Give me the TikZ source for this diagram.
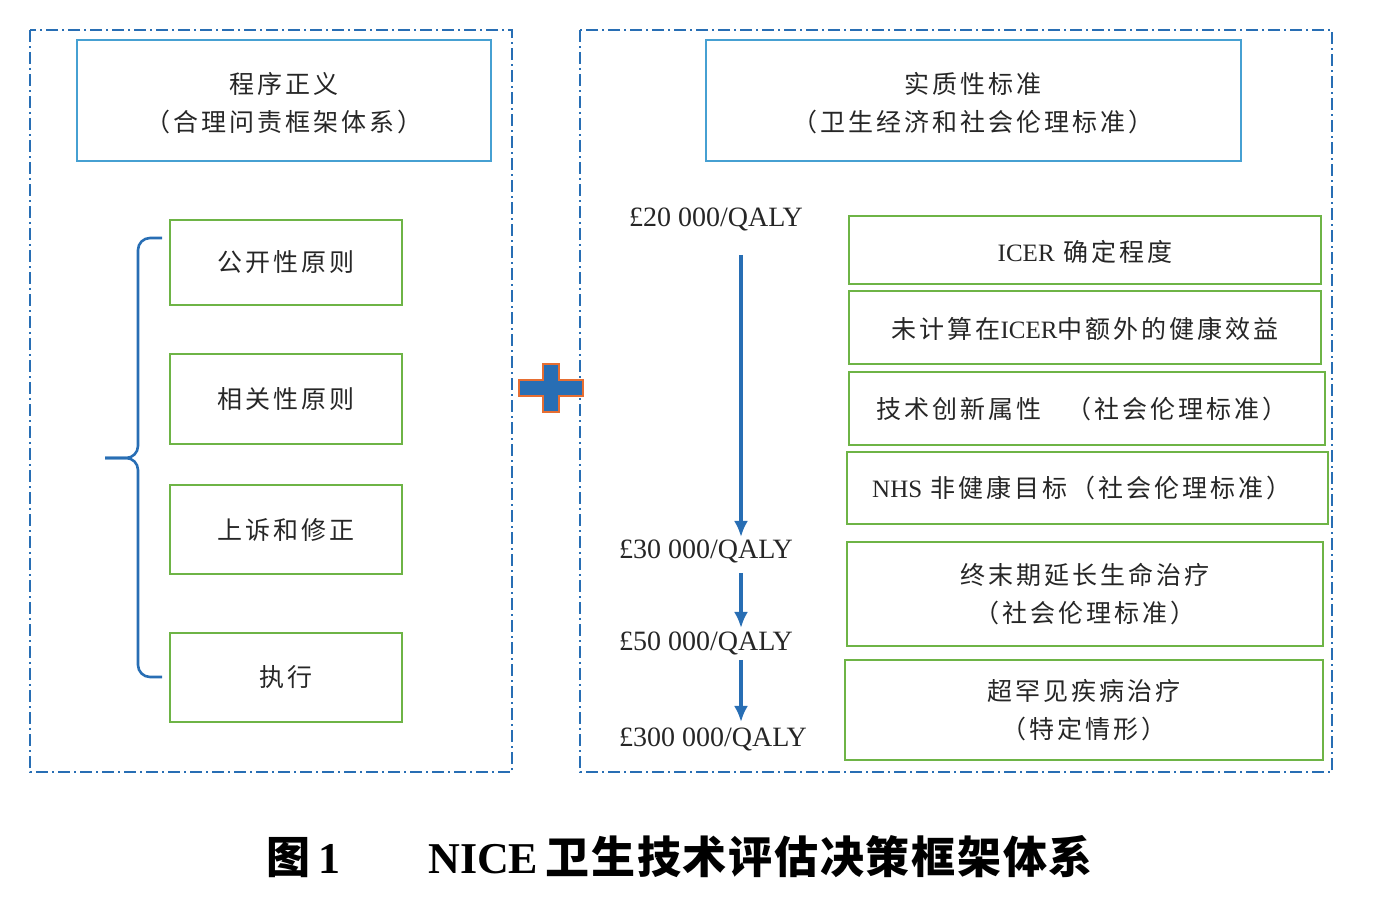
\documentclass[tikz,border=0pt]{standalone}
\usepackage{fontspec}
\setmainfont{Liberation Serif}
\newfontfamily\cjk[LetterSpace=12]{Noto Sans CJK SC}
\newfontfamily\cjkcap[LetterSpace=4]{Noto Sans CJK SC}
\definecolor{dblue}{RGB}{40,110,180}
\definecolor{lblue}{RGB}{70,160,210}
\definecolor{gr}{RGB}{110,180,70}
\definecolor{org}{RGB}{230,110,50}
\usetikzlibrary{arrows.meta}
\begin{document}
\begin{tikzpicture}[x=0.5pt,y=-0.5pt,
  outer/.style={draw=dblue,line width=1.2pt,dash pattern=on 6pt off 2pt on 1pt off 2pt},
  titlebox/.style={draw=lblue,line width=1.3pt},
  gbox/.style={draw=gr,line width=1.2pt},
  txt/.style={font=\cjk\fontsize{12.5}{19}\selectfont,align=center,text=black!85},
  lab/.style={font=\fontsize{14}{16}\selectfont,text=black!85},
  arr/.style={draw=dblue,line width=1.8pt,-{Latex[length=8pt,width=7pt]}}]
\useasboundingbox (0,0) rectangle (1382,908);
\draw[outer] (30,30) rectangle (512,772);
\draw[outer] (580,30) rectangle (1332,772);
\draw[titlebox] (77,40) rectangle (491,161);
\node[txt] (t1) at (284,103) {程序正义\\（合理问责框架体系）};
\draw[titlebox] (706,40) rectangle (1241,161);
\node[txt] (t2) at (973,103) {实质性标准\\（卫生经济和社会伦理标准）};
\foreach \a/\b/\t [count=\i] in {220/305/公开性原则,354/444/相关性原则,485/574/上诉和修正,633/722/执行}{
  \draw[gbox] (170,\a) rectangle (402,\b);
  \node[txt] (l\i) at (286,{(\a+\b)/2}) {\t};
}
\draw[dblue,line width=1.3pt,rounded corners=6pt] (162,238) -- (138,238) -- (138,458) -- (105,458);
\draw[dblue,line width=1.3pt,rounded corners=6pt] (105,458) -- (138,458) -- (138,677) -- (162,677);
\draw[org,fill=dblue,line width=1.2pt] (543,364) -- (559,364) -- (559,380) -- (583,380) -- (583,396) -- (559,396) -- (559,412) -- (543,412) -- (543,396) -- (519,396) -- (519,380) -- (543,380) -- cycle;
\draw[gbox] (849,216) rectangle (1321,284);
\node[txt] (r1) at (1085,252) {{\rmfamily ICER} 确定程度};
\draw[gbox] (849,291) rectangle (1321,364);
\node[txt] (r2) at (1085,329) {未计算在{\rmfamily ICER}中额外的健康效益};
\draw[gbox] (849,372) rectangle (1325,445);
\node[txt] (r3) at (1082,409) {技术创新属性\quad（社会伦理标准）};
\draw[gbox] (847,452) rectangle (1328,524);
\node[txt] (r4) at (1082,488) {{\rmfamily NHS} 非健康目标（社会伦理标准）};
\draw[gbox] (847,542) rectangle (1323,646);
\node[txt] (r5) at (1085,594) {终末期延长生命治疗\\（社会伦理标准）};
\draw[gbox] (845,660) rectangle (1323,760);
\node[txt] (r6) at (1084,710) {超罕见疾病治疗\\（特定情形）};
\node[lab] (q1) at (716,219) {£20 000/QALY};
\node[lab] (q2) at (706,551) {£30 000/QALY};
\node[lab] (q3) at (706,643) {£50 000/QALY};
\node[lab] (q4) at (713,739) {£300 000/QALY};
\draw[arr] (741,255) -- (741,537);
\draw[arr] (741,573) -- (741,628);
\draw[arr] (741,660) -- (741,722);
\node[font=\cjkcap\bfseries\fontsize{22}{26}\selectfont] (cap) at (680,857) {图{\rmfamily\bfseries\,1}\qquad{\rmfamily\bfseries NICE\,}卫生技术评估决策框架体系};
\end{tikzpicture}
\end{document}
